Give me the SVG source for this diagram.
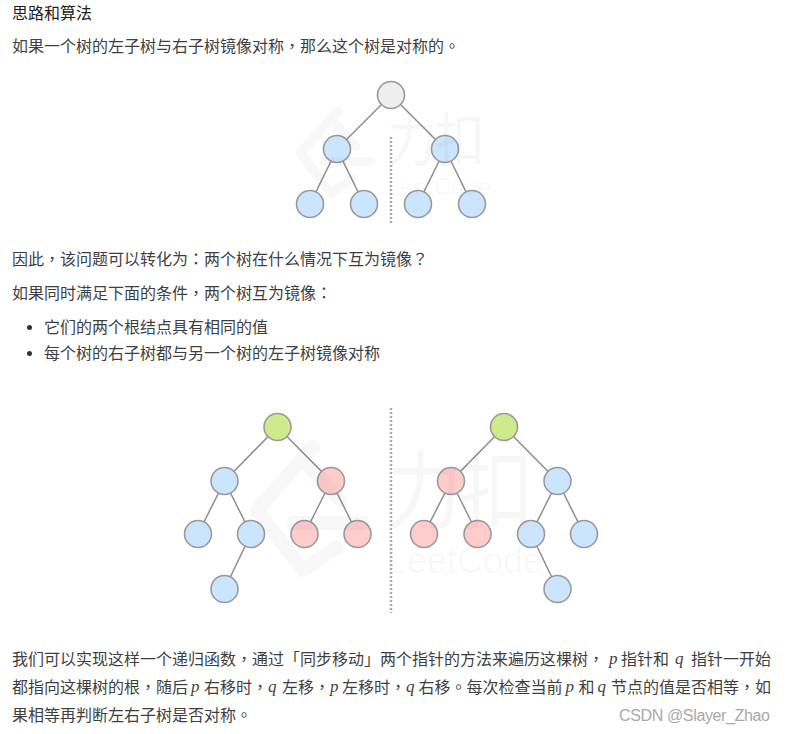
<svg xmlns="http://www.w3.org/2000/svg" width="787" height="734" viewBox="0 0 787 734">
<style>
text{font-family:"Noto Sans CJK SC","Liberation Sans",sans-serif;font-size:16px;fill:#3f3f3f}
.pc{font-family:"Noto Sans CJK TC","Noto Sans CJK SC",sans-serif}
.title{fill:#222}
.m{font-family:"Liberation Serif",serif;font-style:italic;font-size:17px}
.wm{fill:#000;fill-opacity:.032}
.wmlogo{fill:none;stroke:#000;stroke-opacity:.028;stroke-linecap:round;stroke-linejoin:round;stroke-width:9.5}
.n circle{stroke:#999;stroke-width:1.6}
.g{fill:#eee}.b{fill:#cce5ff}.r{fill:#ffcccc}.y{fill:#cdeb8b}
#connectors line{stroke:#8c8c8c;stroke-width:1.5}
#connectors line.d{stroke:#aaa;stroke-width:2.5;stroke-dasharray:2 2}
</style>
<defs>
<g id="wmark">
<path class="wmlogo" d="M337.700 111L300.300 153L331 193L353.700 177.700M324.300 161.700H371M335.700 124.300L355.700 146.300"/>
<text class="wm" transform="translate(387 115) scale(1 1.15)" x="0" y="40" style="font-size:50px;letter-spacing:-2px">力扣</text>
<text class="wm" x="387" y="195" style="font-family:'Liberation Sans',sans-serif;font-size:24px">LeetCode</text>
</g>
</defs>
<rect width="787" height="734" fill="#fff"/>
<g id="text">
<text class="title" x="12" y="19">思路和算法</text>
<text x="12" y="52">如果一个树的左子树与右子树镜像对称<tspan class="pc">，</tspan>那么这个树是对称的<tspan class="pc">。</tspan></text>
<text x="12" y="265">因此<tspan class="pc">，</tspan>该问题可以转化为<tspan class="pc">：</tspan>两个树在什么情况下互为镜像<tspan class="pc">？</tspan></text>
<text x="12" y="299">如果同时满足下面的条件<tspan class="pc">，</tspan>两个树互为镜像<tspan class="pc">：</tspan></text>
<circle cx="29.500" cy="327.500" r="2.500" fill="#333"/>
<text x="44" y="333">它们的两个根结点具有相同的值</text>
<circle cx="29.500" cy="353.500" r="2.500" fill="#333"/>
<text x="44" y="359">每个树的右子树都与另一个树的左子树镜像对称</text>
<text x="12" y="665">我们可以实现这样一个递归函数<tspan class="pc">，</tspan>通过「同步移动」两个指针的方法来遍历这棵树<tspan class="pc">，</tspan></text>
<text class="m" x="609" y="664">p</text><text x="621" y="665">指针和</text>
<text class="m" x="675" y="664">q</text><text x="691" y="665">指针一开始</text>
<text x="12" y="693">都指向这棵树的根<tspan class="pc">，</tspan>随后</text>
<text class="m" x="191" y="692">p</text><text x="204" y="693">右移时<tspan class="pc">，</tspan></text>
<text class="m" x="268" y="692">q</text><text x="282" y="693">左移<tspan class="pc">，</tspan></text>
<text class="m" x="330" y="692">p</text><text x="342" y="693">左移时<tspan class="pc">，</tspan></text>
<text class="m" x="406" y="692">q</text><text x="418.500" y="693">右移<tspan class="pc">。</tspan>每次检查当前</text>
<text class="m" x="565.500" y="692">p</text><text x="578.500" y="693">和</text>
<text class="m" x="597.500" y="692">q</text><text x="611" y="693">节点的值是否相等<tspan class="pc">，</tspan>如</text>
<text x="12" y="721">果相等再判断左右子树是否对称<tspan class="pc">。</tspan></text>
</g>
<g id="connectors">
<line x1="391" y1="95" x2="337" y2="149"/><line x1="391" y1="95" x2="445" y2="149"/>
<line x1="337" y1="149" x2="310" y2="204"/><line x1="337" y1="149" x2="364" y2="204"/>
<line x1="445" y1="149" x2="418" y2="204"/><line x1="445" y1="149" x2="472" y2="204"/>
<line class="d" x1="391" y1="137" x2="391" y2="224"/>
<line x1="277.500" y1="427" x2="224.500" y2="481"/><line x1="277.500" y1="427" x2="331" y2="481"/>
<line x1="224.500" y1="481" x2="198" y2="534"/><line x1="224.500" y1="481" x2="251" y2="534"/>
<line x1="331" y1="481" x2="304.500" y2="534"/><line x1="331" y1="481" x2="357.500" y2="534"/>
<line x1="251" y1="534" x2="224.500" y2="589"/>
<line x1="504" y1="427" x2="451" y2="481"/><line x1="504" y1="427" x2="557.500" y2="481"/>
<line x1="451" y1="481" x2="424" y2="534"/><line x1="451" y1="481" x2="477.500" y2="534"/>
<line x1="557.500" y1="481" x2="531" y2="534"/><line x1="557.500" y1="481" x2="584" y2="534"/>
<line x1="531" y1="534" x2="557.500" y2="589"/>
<line class="d" x1="391" y1="408" x2="391" y2="613"/>
</g>
<g id="n1" class="n"><circle class="g" cx="391" cy="95" r="13.500"/></g>
<g id="n2" class="n"><circle class="b" cx="337" cy="149" r="13.500"/></g>
<g id="n3" class="n"><circle class="b" cx="445" cy="149" r="13.500"/></g>
<g id="n4" class="n"><circle class="b" cx="310" cy="204" r="13.500"/></g>
<g id="n5" class="n"><circle class="b" cx="364" cy="204" r="13.500"/></g>
<g id="n6" class="n"><circle class="b" cx="418" cy="204" r="13.500"/></g>
<g id="n7" class="n"><circle class="b" cx="472" cy="204" r="13.500"/></g>
<g id="a1" class="n"><circle class="y" cx="277.500" cy="427" r="13.500"/></g>
<g id="a2" class="n"><circle class="b" cx="224.500" cy="481" r="13.500"/></g>
<g id="a3" class="n"><circle class="r" cx="331" cy="481" r="13.500"/></g>
<g id="a4" class="n"><circle class="b" cx="198" cy="534" r="13.500"/></g>
<g id="a5" class="n"><circle class="b" cx="251" cy="534" r="13.500"/></g>
<g id="a6" class="n"><circle class="r" cx="304.500" cy="534" r="13.500"/></g>
<g id="a7" class="n"><circle class="r" cx="357.500" cy="534" r="13.500"/></g>
<g id="a8" class="n"><circle class="b" cx="224.500" cy="589" r="13.500"/></g>
<g id="b1" class="n"><circle class="y" cx="504" cy="427" r="13.500"/></g>
<g id="b2" class="n"><circle class="r" cx="451" cy="481" r="13.500"/></g>
<g id="b3" class="n"><circle class="b" cx="557.500" cy="481" r="13.500"/></g>
<g id="b4" class="n"><circle class="r" cx="424" cy="534" r="13.500"/></g>
<g id="b5" class="n"><circle class="r" cx="477.500" cy="534" r="13.500"/></g>
<g id="b6" class="n"><circle class="b" cx="531" cy="534" r="13.500"/></g>
<g id="b7" class="n"><circle class="b" cx="584" cy="534" r="13.500"/></g>
<g id="b8" class="n"><circle class="b" cx="557.500" cy="589" r="13.500"/></g>
<g id="watermarks">
<use href="#wmark"/>
<use href="#wmark" transform="translate(387 453) scale(1.5) translate(-387 -115)"/>
</g>
<text x="619" y="721" style="font-family:'Liberation Sans',sans-serif;fill:#a8a8a8;font-size:16px" textLength="151">CSDN @Slayer_Zhao</text>
</svg>
